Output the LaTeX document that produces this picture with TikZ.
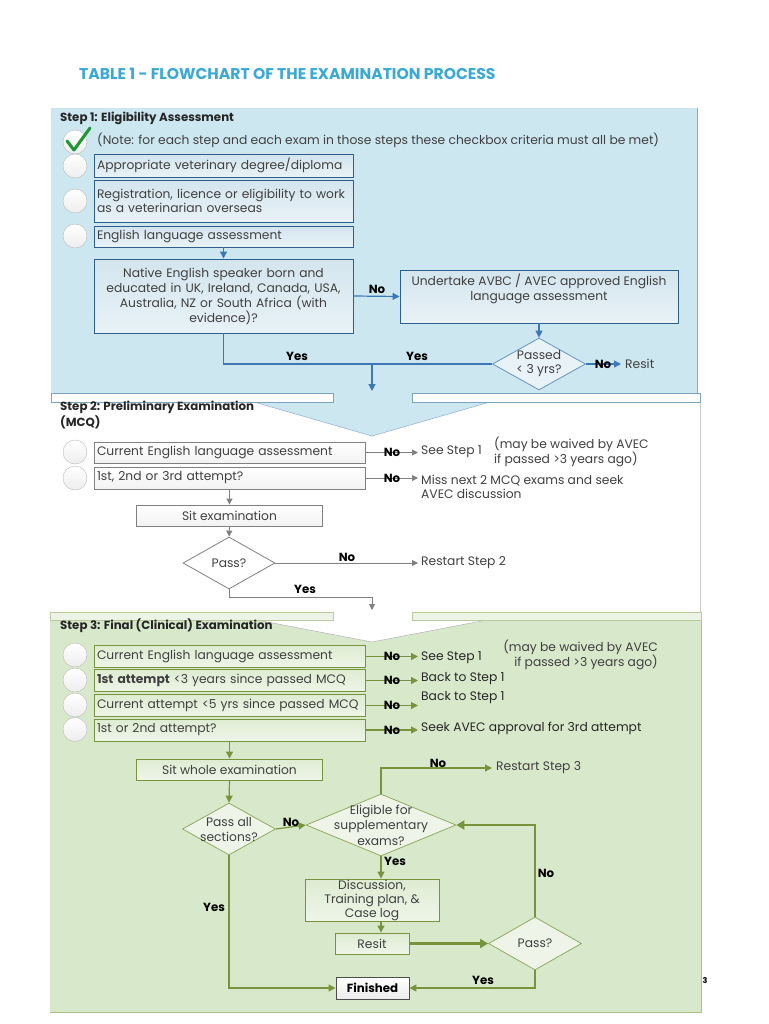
\documentclass[tikz,border=0pt]{standalone}
\usepackage{fontspec}
\setmainfont{Poppins}
\usetikzlibrary{shapes.geometric,arrows.meta}
\definecolor{titleblue}{RGB}{58,170,212}
\definecolor{panelblue}{RGB}{205,231,241}
\definecolor{edgeblue}{RGB}{44,95,140}
\definecolor{boxbluetop}{RGB}{212,229,238}
\definecolor{boxbluebot}{RGB}{232,242,247}
\definecolor{arrowblue}{RGB}{62,120,180}
\definecolor{panelgreen}{RGB}{216,233,203}
\definecolor{edgegreen}{RGB}{119,147,60}
\definecolor{boxgreentop}{RGB}{222,236,210}
\definecolor{boxgreenbot}{RGB}{238,245,232}
\definecolor{linegray}{RGB}{128,128,128}
\definecolor{txt}{RGB}{64,64,64}
\definecolor{checkgreen}{RGB}{30,150,50}
\newcommand{\myfs}{\fontsize{12.3}{14.5}\selectfont}
\newcommand{\myfsb}{\fontsize{11.8}{15.5}\selectfont}
\tikzset{
  lbl/.style={inner sep=0pt, font=\myfs, text=txt},
  yn/.style={inner sep=0pt, font=\bfseries\myfsb, text=black},
  head/.style={inner sep=0pt, font=\bfseries\myfsb, text=black!85, anchor=west, align=left},
  circ/.style={circle, draw=gray!55, top color=white, bottom color=gray!14, minimum size=24pt, inner sep=0pt},
  boxbase/.style={inner xsep=3pt, inner ysep=0pt, font=\myfs, text=txt, line width=0.9pt},
  bbox/.style={boxbase, draw=edgeblue, top color=boxbluetop, bottom color=boxbluebot},
  gbox/.style={boxbase, draw=linegray, top color=white, bottom color=gray!10},
  grbox/.style={boxbase, draw=edgegreen, top color=boxgreentop, bottom color=boxgreenbot},
  dia/.style={diamond, inner sep=0pt, line width=0.8pt},
  arrb/.style={draw=arrowblue, line width=1.2pt, -{Triangle[width=7pt,length=7pt]}},
  lineb/.style={draw=arrowblue, line width=1.2pt},
  arrg/.style={draw=linegray, line width=0.9pt, -{Triangle[width=6pt,length=6pt]}},
  arrgr/.style={draw=edgegreen, line width=1.2pt, -{Triangle[width=7pt,length=7pt]}},
  arrgrt/.style={draw=edgegreen, line width=2.2pt, -{Triangle[width=9pt,length=8pt]}}
}
\begin{document}
\begin{tikzpicture}[x=1pt,y=-1pt]
\useasboundingbox (0,0) rectangle (768,1024);
\fill[white] (0,0) rectangle (768,1024);

% title
\node[inner sep=0pt, anchor=west, font=\bfseries\fontsize{15.6}{18}\selectfont, text=titleblue] (title) at (79,74) {TABLE 1 - FLOWCHART OF THE EXAMINATION PROCESS};

% ---------- panels ----------
\fill[panelblue] (51,108) rectangle (697,393);
\draw[gray!60!panelblue, line width=1pt] (697,108) -- (697,393);
\draw[gray!40] (700,393) -- (700,612);
\fill[panelgreen] (50,612) rectangle (701,1012);
\draw[edgegreen!60, line width=1pt] (701,612) -- (701,1012) -- (50,1012);

% block arrow step1 -> step2
\fill[panelblue] (333,393) -- (333,402) -- (254,402) -- (372,436) -- (490,402) -- (412,402) -- (412,393) -- cycle;
\draw[arrowblue!60, line width=0.5pt] (254,402) -- (372,436) -- (490,402);
\draw[edgeblue!50!panelblue, fill=white, line width=0.6pt] (51,393) rectangle (333,402);
\draw[edgeblue!50!panelblue, fill=white, line width=0.6pt] (412,393) rectangle (700,402);

% block arrow step2 -> step3
\fill[white] (333,612) -- (333,620) -- (257,620) -- (372,642) -- (487,620) -- (412,620) -- (412,612) -- cycle;
\draw[gray!60, line width=0.5pt] (257,620) -- (372,642) -- (487,620);
\draw[edgegreen!50, fill=panelgreen!50!white, line width=0.6pt] (50,612) rectangle (333,620);
\draw[edgegreen!50, fill=panelgreen!50!white, line width=0.6pt] (412,612) rectangle (701,620);

% ---------- Step 1 ----------
\node[head] (h1) at (60,118) {Step 1: Eligibility Assessment};
\node[circ] (c0) at (75,142) {};
\draw[checkgreen, line width=3pt, line cap=round, line join=round] (67,141) -- (74,150) -- (90,128);
\node[lbl, anchor=west] (note) at (97,140) {(Note: for each step and each exam in those steps these checkbox criteria must all be met)};
\node[circ] (c1) at (75,166) {};
\node[bbox, text width=253pt, minimum height=23pt, align=left] (e1) at (223.5,165.5) {\mbox{Appropriate veterinary degree/diploma}};
\node[circ] (c2) at (75,201) {};
\node[bbox, text width=253pt, minimum height=42pt, align=left] (e2) at (223.5,201) {\mbox{Registration, licence or eligibility to work}\\\mbox{as a veterinarian overseas}};
\node[circ] (c3) at (75,236) {};
\node[bbox, text width=253pt, minimum height=21pt, align=left] (e3) at (223.5,236.5) {\mbox{English language assessment}};
\node[bbox, text width=253pt, minimum height=74pt, align=center, font=\fontsize{12.3}{15}\selectfont] (nat) at (223.5,296) {\mbox{Native English speaker born and}\\\mbox{educated in UK, Ireland, Canada, USA,}\\\mbox{Australia, NZ or South Africa (with}\\evidence)?};
\node[bbox, minimum width=278pt, minimum height=53pt] (und) at (539,296.5) {};
\node[lbl, align=center, font=\fontsize{12.3}{15}\selectfont] (undt) at (539,289) {Undertake AVBC / AVEC approved English\\language assessment};
\node[dia, draw=arrowblue!80, fill=boxbluebot, minimum width=93pt, minimum height=52pt] (d1) at (539,364) {};
\node[lbl, align=center, font=\fontsize{12.3}{14}\selectfont] (d1t) at (539,364) {Passed\\< 3 yrs?};
\coordinate (rs1) at (621,364);
\node[lbl, anchor=west] (resit1) at (625,364) {Resit};
\coordinate (j1) at (372,364);
\coordinate (j1e) at (372,391);

\draw[arrb] (e3.south) -- (nat.north);
\draw[arrb] (nat.east) -- (und.west);
\node[yn] at (377,289) {No};
\draw[arrb] (und.south) -- (d1.north);
\draw[lineb] (nat.south) |- (j1);
\draw[lineb] (d1.west) -- (j1);
\draw[arrb] (j1) -- (j1e);
\node[yn] at (297,356) {Yes};
\node[yn] at (417,356) {Yes};
\draw[arrb] (d1.east) -- (rs1);
\node[yn] at (603,364) {No};

% ---------- Step 2 ----------
\node[head] (h2) at (60,415) {Step 2: Preliminary Examination\\(MCQ)};
\node[circ] (s2c1) at (75,452) {};
\node[circ] (s2c2) at (75,478) {};
\node[gbox, text width=265pt, minimum height=21pt, align=left] (g1) at (229.5,452.5) {\mbox{Current English language assessment}};
\node[gbox, text width=265pt, minimum height=22pt, align=left] (g2) at (229.5,478) {\mbox{1st, 2nd or 3rd attempt?}};
\coordinate (g1e) at (418,452.5);
\coordinate (g2e) at (418,478);
\draw[arrg] (g1.east) -- (g1e);
\draw[arrg] (g2.east) -- (g2e);
\node[yn] at (392,452.5) {No};
\node[yn] at (392,478) {No};
\node[lbl, anchor=west] (see1) at (421,452) {See Step 1};
\node[lbl, anchor=west, align=left, font=\fontsize{12.3}{14}\selectfont] (waive1) at (494,452) {(may be waived by AVEC\\if passed >3 years ago)};
\node[lbl, anchor=west, align=left, font=\fontsize{12.3}{14}\selectfont] (miss) at (421,487) {Miss next 2 MCQ exams and seek\\AVEC discussion};
\node[gbox, minimum width=186pt, minimum height=21pt] (sit) at (229.5,515.5) {Sit examination};
\draw[arrg] (g2.south) -- (sit.north);
\node[dia, draw=linegray, fill=white, minimum width=92pt, minimum height=52pt] (d2) at (229,563) {};
\node[lbl] (d2t) at (229,563) {Pass?};
\draw[arrg] (sit.south) -- (d2.north);
\coordinate (rs2) at (418,563);
\draw[arrg] (d2.east) -- (rs2);
\node[yn] at (347,557) {No};
\node[lbl, anchor=west] (restart2) at (421,563) {Restart Step 2};
\coordinate (y2b) at (372,597);
\coordinate (y2e) at (372,610);
\draw[draw=linegray, line width=0.9pt] (d2.south) |- (y2b);
\draw[arrg] (y2b) -- (y2e);
\node[yn] at (305,589) {Yes};

% ---------- Step 3 ----------
\node[head] (h3) at (60,626) {Step 3: Final (Clinical) Examination};
\node[circ] (t1) at (75,655) {};
\node[circ] (t2) at (75,680) {};
\node[circ] (t3) at (75,705) {};
\node[circ] (t4) at (75,729.5) {};
\node[grbox, text width=265pt, minimum height=22pt, align=left] (k1) at (229.5,656.5) {\mbox{Current English language assessment}};
\node[grbox, text width=265pt, minimum height=22pt, align=left] (k2) at (229.5,680.5) {\mbox{\textbf{1st attempt} <3 years since passed MCQ}};
\node[grbox, text width=265pt, minimum height=22pt, align=left] (k3) at (229.5,705.5) {\mbox{Current attempt <5 yrs since passed MCQ}};
\node[grbox, text width=265pt, minimum height=22pt, align=left] (k4) at (229.5,730) {\mbox{1st or 2nd attempt?}};
\coordinate (k1e) at (418,656.5);
\coordinate (k2e) at (418,680.5);
\coordinate (k3e) at (418,705.5);
\coordinate (k4e) at (418,730);
\draw[arrgr] (k1.east) -- (k1e);
\draw[arrgr] (k2.east) -- (k2e);
\draw[arrgr] (k3.east) -- (k3e);
\draw[arrgr] (k4.east) -- (k4e);
\node[yn] at (392,656.5) {No};
\node[yn] at (392,680.5) {No};
\node[yn] at (392,705.5) {No};
\node[yn] at (392,730) {No};
\node[lbl, anchor=west, text=black!85] (see3) at (421,658) {See Step 1};
\node[lbl, anchor=east, align=right, font=\fontsize{12.3}{14}\selectfont] (waive3) at (658,655) {(may be waived by AVEC\\if passed >3 years ago)};
\node[lbl, anchor=west, text=black!85] (back1) at (421,679) {Back to Step 1};
\node[lbl, anchor=west, text=black!85] (back2) at (421,698) {Back to Step 1};
\node[lbl, anchor=west, text=black!85] (seek) at (421,728) {Seek AVEC approval for 3rd attempt};
\node[grbox, minimum width=186pt, minimum height=21pt] (sw) at (229.5,769.5) {Sit whole examination};
\draw[arrgr] (k4.south) -- (sw.north);
\node[dia, draw=edgegreen!80, fill=boxgreenbot, minimum width=93pt, minimum height=52pt] (d3) at (229,829) {};
\node[lbl, align=center, font=\fontsize{12.3}{15}\selectfont] (d3t) at (229,829) {Pass all\\sections?};
\draw[arrgr] (sw.south) -- (d3.north);
\node[dia, draw=edgegreen!80, fill=boxgreenbot, minimum width=150pt, minimum height=62pt] (d4) at (381,825) {};
\node[lbl, align=center, font=\fontsize{12.3}{15.5}\selectfont] (d4t) at (381,825) {Eligible for\\supplementary\\exams?};
\draw[arrgr] (d3.east) -- (d4.west);
\node[yn] at (291,822) {No};
\coordinate (rs3) at (492,768);
\draw[arrgr] (d4.north) |- (rs3);
\node[yn] at (438,763) {No};
\node[lbl, anchor=west] (restart3) at (496,768) {Restart Step 3};
\node[grbox, minimum width=134pt, minimum height=42pt, align=center, font=\fontsize{12.3}{14}\selectfont] (disc) at (372,900) {Discussion,\\Training plan, \&\\Case log};
\draw[arrgr] (d4.south) -- (d4.south |- disc.north);
\node[yn] at (395,861) {Yes};
\node[grbox, minimum width=74pt, minimum height=21pt] (resit3) at (372,943.5) {Resit};
\draw[arrgr] (disc.south -| d4.south) -- (resit3.north -| d4.south);
\node[dia, draw=edgegreen!80, fill=boxgreenbot, minimum width=93pt, minimum height=53pt] (d5) at (535,943.5) {};
\node[lbl] (d5t) at (535,943.5) {Pass?};
\draw[arrgrt] (resit3.east) -- (d5.west);
\draw[arrgrt] (d5.north) |- (d4.east);
\node[yn] at (546,873) {No};
\node[boxbase, draw=black!70, top color=white, bottom color=gray!15, minimum width=73pt, minimum height=22pt, font=\bfseries\myfsb, text=black] (fin) at (372.5,988) {Finished};
\draw[arrgr] (d5.south) |- (fin.east);
\node[yn] at (483,980) {Yes};
\draw[arrgr] (d3.south) |- (fin.west);
\node[yn] at (214,907) {Yes};

\node[yn, font=\bfseries\fontsize{8}{9}\selectfont] (pg) at (705,981) {3};
\end{tikzpicture}
\end{document}
